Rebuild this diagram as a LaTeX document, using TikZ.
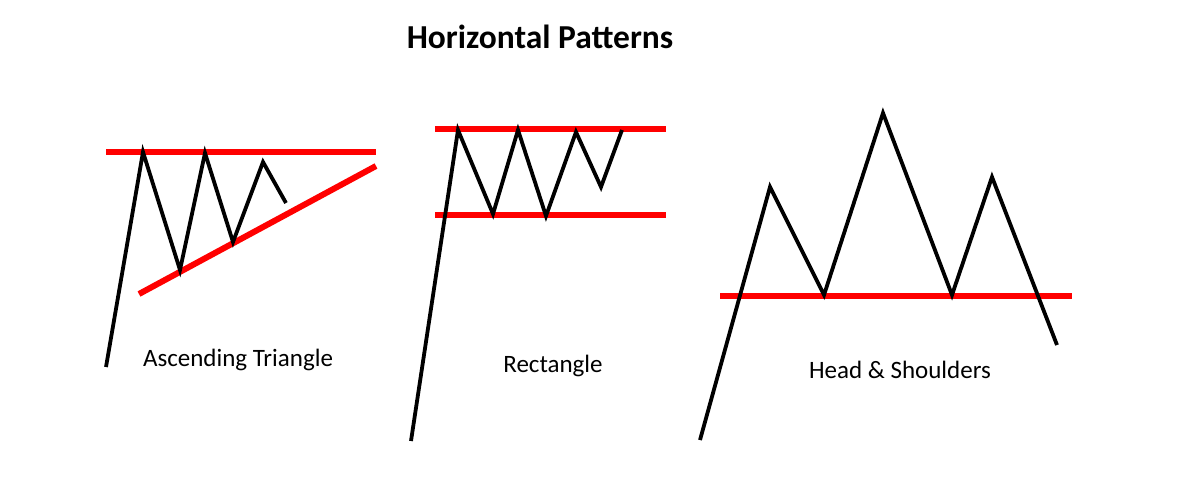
\documentclass[tikz,border=0pt]{standalone}
\usepackage{fontspec}
\setmainfont{Carlito}
\begin{document}
\begin{tikzpicture}[x=1pt,y=-1pt,
  price/.style={line width=3.8pt,black,line join=miter},
  level/.style={line width=6pt,red},
  lbl/.style={font=\fontsize{25}{28}\selectfont},
  ttl/.style={font=\bfseries\fontsize{33.5}{36}\selectfont}]
\useasboundingbox (0,0) rectangle (1181,498);
\node[ttl] (title) at (540,37) {Horizontal Patterns};
% Ascending triangle
\draw[level] (106,152) -- (376,152);
\draw[level] (139,294) -- (376,166);
\draw[price] (106,367) -- (143,152) -- (180,270) -- (205,153) -- (233,242) -- (263,162) -- (286,203);
\node[lbl] (t1) at (238,360) {Ascending Triangle};
% Rectangle
\draw[level] (435,129) -- (666,129);
\draw[level] (435,215) -- (666,215);
\draw[price] (411,441) -- (458,130) -- (493,214) -- (518,130) -- (546,216) -- (576,132) -- (601,187) -- (622,130);
\node[lbl] (t2) at (553,366) {Rectangle};
% Head and shoulders
\draw[level] (720,296) -- (1072,296);
\draw[price] (700,440) -- (770,187) -- (824,295) -- (883,113) -- (952,295) -- (992,177) -- (1057,345);
\node[lbl] (t3) at (900,370) {Head \& Shoulders};
\end{tikzpicture}
\end{document}
